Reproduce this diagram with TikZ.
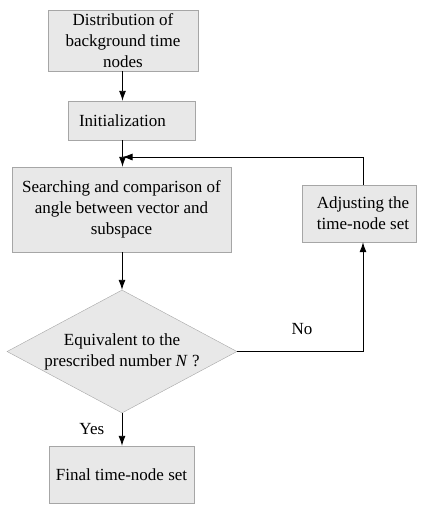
\documentclass[tikz,border=0pt]{standalone}
\usepackage{fontspec}
\setmainfont{Liberation Serif}
\usetikzlibrary{shapes.geometric,arrows.meta}

\tikzset{
	stepbox/.style={draw=black!35, fill=gray!18, inner sep=0pt, align=center, font=\fontsize{17}{21}\selectfont},
	flow/.style={-{Latex[length=10pt,width=7pt]}, line width=0.9pt}
}

\begin{document}
\begin{tikzpicture}[x=1pt,y=-1pt]
			\useasboundingbox (0,0) rectangle (430,515);
			\node[stepbox, minimum width=150pt, minimum height=61pt] (dist) at (123,40.5) {Distribution of\\background time\\nodes};
			\node[stepbox, minimum width=127pt, minimum height=39pt] (init) at (131.5,120.5) {Initialization\hspace*{18pt}};
			\node[stepbox, minimum width=219pt, minimum height=85pt] (search) at (121.5,209.5) {Searching and comparison of\\angle between vector and\\subspace};
			\node[stepbox, diamond, minimum width=230pt, minimum height=123pt, aspect=1.87] (decide) at (122,351.5) {Equivalent to the\\prescribed number \textit{N} ?};
			\node[stepbox, minimum width=145pt, minimum height=57pt] (final) at (121.5,474.5) {Final time-node set};
			\node[stepbox, minimum width=114pt, minimum height=57pt] (adjust) at (359,213.5) {\hspace*{8pt}Adjusting the\\\hspace*{8pt}time-node set};
			\coordinate (corner) at (363,351.5);
			\coordinate (back) at (363,157);
			\coordinate (join) at (122.5,157);
			% main line
			\draw[flow] (dist.south -| join) -- (init.north -| join);
			\draw[flow] (init.south -| join) -- (search.north -| join);
			\draw[flow] (search.south -| decide) -- (decide.north);
			\draw[flow] (decide.south) -- (final.north -| decide) node[midway, left=14pt, font=\fontsize{17}{21}\selectfont] (yes) {Yes};
			% loop back
			\draw[flow] (decide.east) -- (corner) -- (corner |- adjust.south);
			\draw[flow] (back |- adjust.north) -- (back) -- (join);
			\node[font=\fontsize{17}{21}\selectfont] (no) at (302,329) {No};
		\end{tikzpicture}
\end{document}
